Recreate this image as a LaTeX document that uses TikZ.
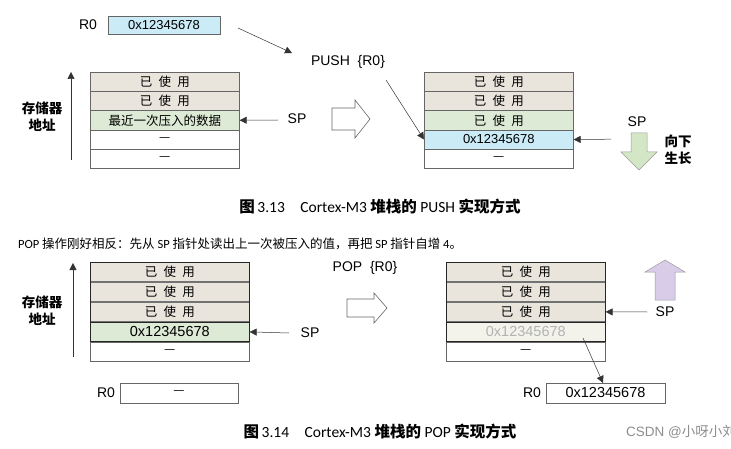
\documentclass[tikz,border=0pt]{standalone}
\usepackage{fontspec}
\setmainfont{Liberation Sans}
\newfontfamily\cjk{Noto Sans CJK SC}
\newfontfamily\capf{Carlito}
\newfontfamily\sansf{Liberation Sans}
\usetikzlibrary{arrows.meta}
\definecolor{beige}{HTML}{E9E5DD}
\definecolor{lgreen}{HTML}{DDEAD5}
\definecolor{lblue}{HTML}{CBEBF7}
\definecolor{pale}{HTML}{F3F3EC}
\definecolor{lpurple}{HTML}{D8CCE8}
\definecolor{dgreen}{HTML}{D3E6C6}
\newcommand{\used}{\cjk 已\hspace{0.5em}使\hspace{0.5em}用}
\begin{document}
\begin{tikzpicture}[x=1pt,y=-1pt,
  row/.style={draw=black!60,line width=0.6pt,minimum width=#1,minimum height=19.2pt,inner sep=0,font=\fontsize{12.5}{12}\selectfont,anchor=north west},
  row/.default=149pt,
  lbl/.style={font=\fontsize{14}{14}\selectfont,inner sep=0},
  ptr/.style={-{Triangle[length=7pt,width=7pt]},black!80,line width=0.5pt},
  hollow/.style={draw=black!60,fill=white,line width=0.6pt},
  addr/.style={font=\cjk\bfseries\fontsize{13.5}{17}\selectfont,align=center,inner sep=0},
  caption/.style={font=\fontsize{15.5}{15}\selectfont,inner sep=0}]
\useasboundingbox (0,0) rectangle (731,449);
% ---------- PUSH ----------
\node[lbl] (r0a) at (88,25) {R0};
\node[draw=black!60,fill=lblue,minimum width=112pt,minimum height=18pt,inner sep=0,font=\fontsize{13}{12}\selectfont] (r0box) at (164,25) {0x12345678};
\node[lbl] (push) at (348,62) {PUSH \ \{R0\}};
\coordinate (pa) at (238,28);
\coordinate (pb) at (292,53);
\draw[ptr] (pa) -- (pb);
% left stack
\node[row,fill=beige] (l1) at (90,72) {\used};
\node[row,fill=beige] (l2) at (90,91.2) {\used};
\node[row,fill=lgreen] (l3) at (90,110.4) {\cjk 最近一次压入的数据};
\node[row,fill=white] (l4) at (90,129.6) {\cjk —};
\node[row,fill=white] (l5) at (90,148.8) {\cjk —};
\coordinate (ua0) at (71,160); \coordinate (ua1) at (71,72);
\draw[ptr] (ua0) -- (ua1);
\node[addr] (ad1) at (42,117) {存储器\\地址};
\node[lbl] (sp1) at (297,119) {SP};
\coordinate (s1) at (278,120);
\draw[ptr] (s1) -- (l3.east);
% hollow arrow
\draw[hollow] (332,108) -- (355,108) -- (355,100) -- (370,119) -- (355,138) -- (355,130) -- (332,130) -- cycle;
% right stack
\node[row,fill=beige] (r1) at (424,72) {\used};
\node[row,fill=beige] (r2) at (424,91.2) {\used};
\node[row,fill=lgreen] (r3) at (424,110.4) {\used};
\node[row,fill=lblue,font=\fontsize{13}{12}\selectfont] (r4) at (424,129.6) {0x12345678};
\node[row,fill=white] (r5) at (424,148.8) {\cjk —};
\coordinate (pc) at (386,80);
\draw[ptr] (pc) -- (r4.west);
\node[lbl] (sp2) at (637,122) {SP};
\coordinate (s2) at (611,139.2);
\draw[ptr] (s2) -- (r4.east);
\draw[draw=black!40,fill=dgreen,line width=0.5pt] (631,133) -- (647,133) -- (647,152) -- (657,152) -- (639,170) -- (621,152) -- (631,152) -- cycle;
\node[addr] (grow) at (678,150) {向下\\生长};
\node[caption] (cap1) at (380,207) {\cjk\bfseries 图\,\capf\mdseries 3.13\quad Cortex-M3 \cjk\bfseries 堆栈的 \capf\mdseries PUSH \cjk\bfseries 实现方式};
% ---------- POP ----------
\node[anchor=west,inner sep=0,font=\fontsize{12.5}{12}\selectfont] (txt) at (18,244) {\capf POP \cjk 操作刚好相反：先从 \capf SP \cjk 指针处读出上一次被压入的值，再把 \capf SP \cjk 指针自增 \capf 4\cjk 。};
\node[row=159pt,fill=beige,draw=black!55] (p1) at (90,262) {\used};
\node[row=159pt,fill=beige,draw=black!55] (p2) at (90,282) {\used};
\node[row=159pt,fill=beige,draw=black!55] (p3) at (90,302) {\used};
\node[row=159pt,fill=lgreen,draw=black!55,font=\fontsize{14.5}{12}\selectfont] (p4) at (90,322) {0x12345678};
\node[row=159pt,fill=white] (p5) at (90,342) {\cjk —};
\draw[black!85,line width=1pt] (p1.north west) rectangle (p4.south east);
\draw[black!85,line width=1pt] (p4.north west) -- (p4.north east);
\coordinate (ub0) at (73,357); \coordinate (ub1) at (73,263);
\draw[ptr] (ub0) -- (ub1);
\node[addr] (ad2) at (42,311) {存储器\\地址};
\node[lbl] (sp3) at (310,333) {SP};
\coordinate (s3) at (289,333);
\draw[ptr] (s3) -- (p4.east);
\node[lbl] (r0c) at (106,393) {R0};
\node[draw=black!60,minimum width=118pt,minimum height=20pt,inner sep=0,font=\fontsize{12.5}{12}\selectfont] (r0d) at (179,393) {\cjk —};
\node[lbl] (pop) at (365,268) {POP \ \{R0\}};
\draw[hollow] (347,299) -- (374,299) -- (374,293) -- (387,308) -- (374,323) -- (374,317) -- (347,317) -- cycle;
\node[row=159pt,fill=beige,draw=black!55] (q1) at (446,262) {\used};
\node[row=159pt,fill=beige,draw=black!55] (q2) at (446,282) {\used};
\node[row=159pt,fill=beige,draw=black!55] (q3) at (446,302) {\used};
\node[row=159pt,fill=pale,draw=black!55,text=black!30,font=\fontsize{14.5}{12}\selectfont] (q4) at (446,322) {0x12345678};
\node[row=159pt,fill=white] (q5) at (446,342) {\cjk —};
\draw[black!85,line width=1pt] (q1.north west) rectangle (q4.south east);
\draw[black!85,line width=1pt] (q4.north west) -- (q4.north east);
\node[lbl] (sp4) at (665,312) {SP};
\coordinate (s4) at (647,312);
\draw[ptr] (s4) -- (q3.east);
\draw[draw=black!40,fill=lpurple,line width=0.5pt] (655,300) -- (675,300) -- (675,272) -- (685,272) -- (665,260) -- (645,272) -- (655,272) -- cycle;
\node[lbl] (r0e) at (532,393) {R0};
\node[draw=black!60,minimum width=119pt,minimum height=20pt,inner sep=0,font=\fontsize{14.5}{12}\selectfont] (r0f) at (605.5,393) {0x12345678};
\coordinate (qa) at (583,338);
\coordinate (qb) at (603,383);
\draw[ptr] (qa) -- (qb);
\node[caption] (cap2) at (380,432) {\cjk\bfseries 图\,\capf\mdseries 3.14\quad Cortex-M3 \cjk\bfseries 堆栈的 \capf\mdseries POP \cjk\bfseries 实现方式};
\node[font=\cjk\fontsize{13.5}{13}\selectfont,text=black!45,inner sep=0] (csdn) at (681,432) {\sansf CSDN @\cjk 小呀小刘};
\end{tikzpicture}
\end{document}
